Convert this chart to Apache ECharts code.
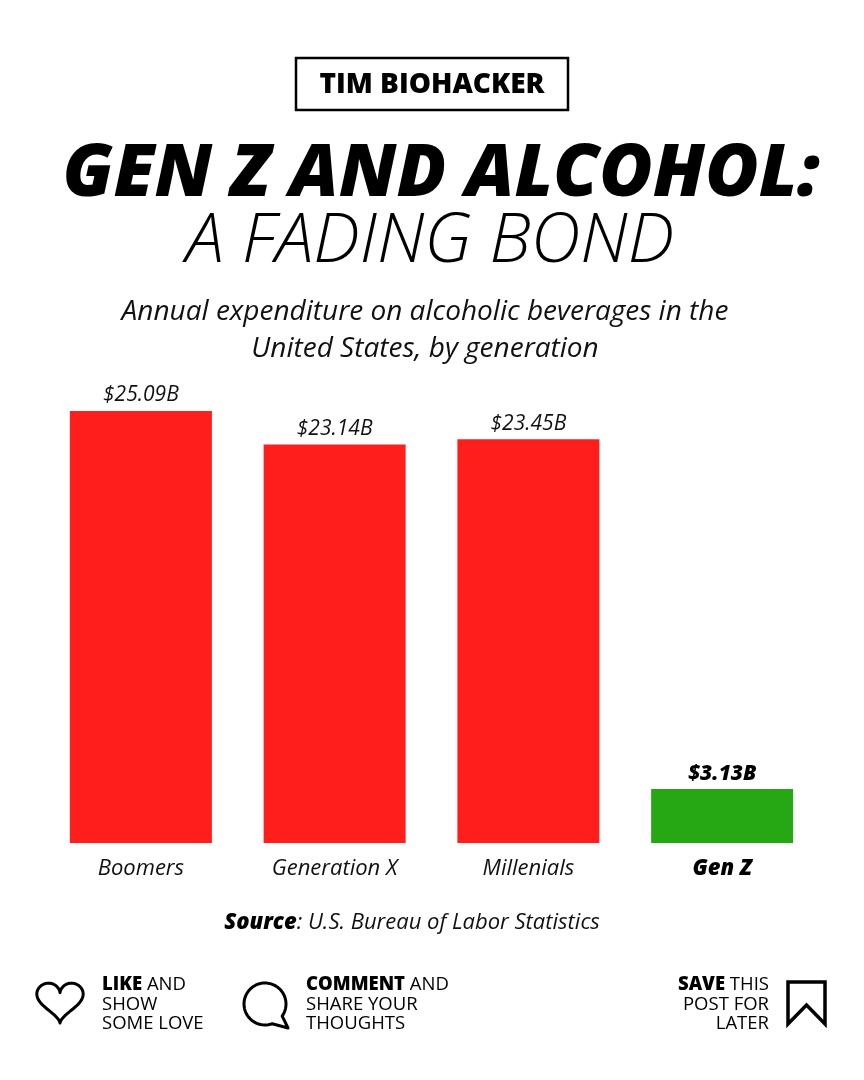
<!DOCTYPE html>
<html>
<head>
<meta charset="utf-8">
<title>Gen Z and Alcohol</title>
<script src="https://cdn.jsdelivr.net/npm/echarts@6/dist/echarts.min.js"></script>
<style>
  html, body { margin: 0; padding: 0; background: #fff; }
  #chart { width: 864px; height: 1080px; }
</style>
</head>
<body>
<div id="chart"></div>
<script>
// data
const generations = ["Boomers", "Generation X", "Millenials", "Gen Z"];
const spending = [25.09, 23.14, 23.45, 3.13]; // billions of dollars
const barColors = ["#fe1e1c", "#fe1e1c", "#fe1e1c", "#25a813"];

const FONT = "Open Sans";

// icon outlines (decoration only)
function heartPoints(cx, top, sx, sy) {
  const pts = [];
  for (let i = 0; i <= 80; i++) {
    const t = (i / 80) * Math.PI * 2;
    const x = 16 * Math.pow(Math.sin(t), 3);
    const y = -(13 * Math.cos(t) - 5 * Math.cos(2 * t) - 2 * Math.cos(3 * t) - Math.cos(4 * t));
    pts.push([cx + x * sx, top + (y + 12) * sy]);
  }
  return pts;
}
function bubblePoints(cx, cy, r, tip) {
  const pts = [];
  const a0 = 35, a1 = 70 - 360;
  for (let i = 0; i <= 60; i++) {
    const a = ((a0 + (a1 - a0) * (i / 60)) * Math.PI) / 180;
    pts.push([cx + r * Math.cos(a), cy + r * Math.sin(a)]);
  }
  pts.push(tip);
  return pts;
}

const chart = echarts.init(document.getElementById("chart"));

const footerRich = { b: { fontFamily: FONT, fontWeight: 800, fontSize: 18.5, lineHeight: 19.5 } };

const option = {
  backgroundColor: "#ffffff",
  animation: false,
  grid: { left: 44, right: 45, top: 411, bottom: 237 },
  xAxis: {
    type: "category",
    data: generations,
    axisLine: { show: false },
    axisTick: { show: false },
    axisLabel: {
      margin: 15,
      fontFamily: FONT,
      fontStyle: "italic",
      fontSize: 22,
      color: "#111",
      formatter: function (v) {
        return v === "Gen Z" ? "{b|" + v + "}" : v;
      },
      rich: {
        b: { fontFamily: FONT, fontStyle: "italic", fontWeight: 800, fontSize: 22, color: "#000" },
      },
    },
  },
  yAxis: {
    type: "value",
    min: 0,
    max: 25.09,
    show: false,
    splitLine: { show: false },
  },
  series: [
    {
      type: "bar",
      barWidth: 142,
      data: spending.map((v, i) => ({
        value: v,
        itemStyle: { color: barColors[i] },
        label: i === 3 ? { fontWeight: 800, color: "#000" } : {},
      })),
      label: {
        show: true,
        position: "top",
        distance: 5,
        fontFamily: FONT,
        fontStyle: "italic",
        fontSize: 21,
        color: "#111",
        formatter: (p) => "$" + p.value.toFixed(2) + "B",
      },
    },
  ],
  graphic: [
    // brand box
    {
      type: "rect",
      shape: { x: 296, y: 58, width: 272, height: 52 },
      style: { fill: "none", stroke: "#000", lineWidth: 2.5 },
    },
    {
      type: "text",
      x: 432, y: 85,
      style: {
        text: "TIM BIOHACKER",
        fontFamily: FONT, fontWeight: 800, fontSize: 28,
        fill: "#000", align: "center", verticalAlign: "middle",
      },
    },
    // title
    {
      type: "text",
      x: 441, y: 175,
      style: {
        text: "GEN Z AND ALCOHOL:",
        fontFamily: FONT, fontWeight: 800, fontStyle: "italic", fontSize: 73,
        fill: "#000", align: "center", verticalAlign: "middle",
      },
    },
    {
      type: "text",
      x: 430, y: 242,
      style: {
        text: "A FADING BOND",
        fontFamily: FONT, fontWeight: 300, fontStyle: "italic", fontSize: 69,
        fill: "#000", align: "center", verticalAlign: "middle",
      },
    },
    // subtitle
    {
      type: "text",
      x: 425, y: 312,
      style: {
        text: "Annual expenditure on alcoholic beverages in the",
        fontFamily: FONT, fontStyle: "italic", fontSize: 28,
        fill: "#111", align: "center", verticalAlign: "middle",
      },
    },
    {
      type: "text",
      x: 425, y: 349,
      style: {
        text: "United States, by generation",
        fontFamily: FONT, fontStyle: "italic", fontSize: 28,
        fill: "#111", align: "center", verticalAlign: "middle",
      },
    },
    // source
    {
      type: "text",
      x: 412, y: 923,
      style: {
        text: "{b|Source}: U.S. Bureau of Labor Statistics",
        fontFamily: FONT, fontStyle: "italic", fontSize: 22,
        fill: "#111", align: "center", verticalAlign: "middle",
        rich: { b: { fontFamily: FONT, fontStyle: "italic", fontWeight: 800, fontSize: 22, fill: "#000" } },
      },
    },
    // footer: heart
    {
      type: "polygon",
      shape: { points: heartPoints(60, 983, 1.45, 1.38) },
      style: { fill: "none", stroke: "#000", lineWidth: 3, lineJoin: "round" },
    },
    {
      type: "text",
      x: 102, y: 975,
      style: {
        text: "{b|LIKE} AND\nSHOW\nSOME LOVE",
        fontFamily: FONT, fontSize: 18.5, lineHeight: 19.5, fill: "#000",
        rich: footerRich,
      },
    },
    // footer: speech bubble
    {
      type: "polygon",
      shape: { points: bubblePoints(265, 1004, 21, [288, 1028]) },
      style: { fill: "none", stroke: "#000", lineWidth: 3, lineJoin: "round" },
    },
    {
      type: "text",
      x: 306, y: 975,
      style: {
        text: "{b|COMMENT} AND\nSHARE YOUR\nTHOUGHTS",
        fontFamily: FONT, fontSize: 18.5, lineHeight: 19.5, fill: "#000",
        rich: footerRich,
      },
    },
    // footer: bookmark
    {
      type: "text",
      x: 769, y: 975,
      style: {
        text: "{b|SAVE} THIS\nPOST FOR\nLATER",
        fontFamily: FONT, fontSize: 18.5, lineHeight: 19.5, fill: "#000", align: "right",
        rich: footerRich,
      },
    },
    {
      type: "polygon",
      shape: { points: [[788, 982], [825, 982], [825, 1024], [806.5, 1005], [788, 1024]] },
      style: { fill: "none", stroke: "#000", lineWidth: 3.5, lineJoin: "miter" },
    },
  ],
};

chart.setOption(option);
</script>
</body>
</html>
